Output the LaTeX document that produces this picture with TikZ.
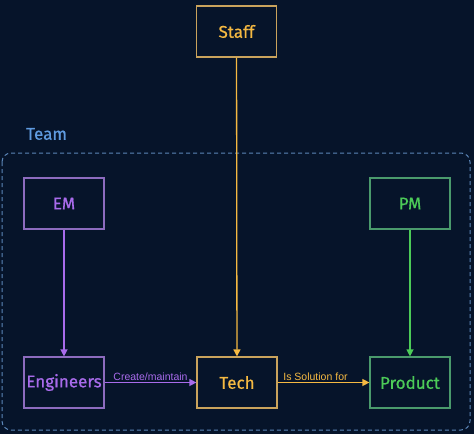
\documentclass[tikz,border=0pt]{standalone}
\usepackage{fontspec}
\setmainfont{Fira Sans}
\newfontfamily\boxfont{Fira Sans}[FakeBold=0.8]
\newfontfamily\lblfont{Liberation Sans}
\usetikzlibrary{arrows.meta}
\definecolor{bg}{HTML}{06142A}
\definecolor{goldline}{HTML}{C9A35C}
\definecolor{goldtxt}{HTML}{F5B942}
\definecolor{purpline}{HTML}{8C6BBE}
\definecolor{purptxt}{HTML}{A86BEB}
\definecolor{greenline}{HTML}{4A9A6C}
\definecolor{greentxt}{HTML}{4CCB58}
\definecolor{teamblue}{HTML}{5F9BE0}
\definecolor{dashblue}{HTML}{5B86B8}
\tikzset{
  box/.style={draw, line width=1.2pt, minimum width=80pt, minimum height=51pt, inner sep=0pt, font=\boxfont\fontsize{17}{20}\selectfont},
  goldbox/.style={box, draw=goldline, text=goldtxt},
  purpbox/.style={box, draw=purpline, text=purptxt},
  greenbox/.style={box, draw=greenline, text=greentxt},
  arr/.style={line width=1.3pt, -{Triangle[length=7pt,width=7pt]}},
  lbl/.style={font=\lblfont\fontsize{10.5}{12}\selectfont, inner sep=1.5pt}
}
\begin{document}
\begin{tikzpicture}[x=1pt,y=-1pt]
\fill[bg] (0,0) rectangle (474,434);
\useasboundingbox (0,0) rectangle (474,434);
\draw[dashblue, line width=1pt, dash pattern=on 4pt off 3pt, rounded corners=9pt] (2,153) rectangle (470,430);
\node[text=teamblue, font=\boxfont\fontsize{17}{20}\selectfont, anchor=west, inner sep=0pt] (team) at (26,134) {Team};
\node[goldbox] (staff) at (236.5,31.5) {Staff};
\node[purpbox] (em) at (64,203.5) {EM};
\node[greenbox] (pm) at (410,203.5) {PM};
\node[purpbox] (eng) at (64,382.5) {Engineers};
\node[goldbox] (tech) at (237,382.5) {Tech};
\node[greenbox] (prod) at (410,382.5) {Product};
\draw[arr, purptxt] (em) -- (eng);
\draw[arr, goldtxt] (staff) -- (tech);
\draw[arr, greentxt] (pm) -- (prod);
\draw[arr, purptxt] (eng) -- node[lbl, above, text=purptxt] {Create/maintain} (tech);
\draw[arr, goldtxt] (tech) -- node[lbl, above, text=goldtxt, xshift=-8pt] {Is Solution for} (prod);
\end{tikzpicture}
\end{document}
